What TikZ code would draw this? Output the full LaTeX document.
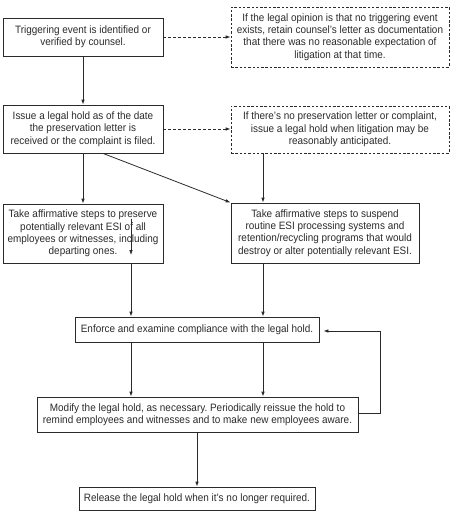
\documentclass[tikz,border=0pt]{standalone}
\usepackage{fontspec}
\setmainfont{Liberation Sans}[FakeStretch=0.93]
\usetikzlibrary{arrows.meta}
\definecolor{ink}{HTML}{2A2A2A}
\frenchspacing
\begin{document}
\begin{tikzpicture}[x=1pt,y=-1pt,
  box/.style={draw=ink, line width=0.8pt, inner sep=0pt, align=center,
    font=\fontsize{10.7}{12.3}\selectfont, text=ink},
  dbox/.style={box, dash pattern=on 2.5pt off 1.8pt},
  arr/.style={draw=ink, line width=0.8pt, -{Latex[length=5pt,width=3.6pt]}},
  darr/.style={arr, dash pattern=on 3pt off 2pt}]
\useasboundingbox (0,0) rectangle (457,519);
\node[box, minimum width=160pt, minimum height=38pt] (A) at (83,37)
  {Triggering event is identified or\\verified by counsel.};
\node[dbox, minimum width=218pt, minimum height=60pt] (B) at (340,37)
  {If the legal opinion is that no triggering event\\exists, retain counsel’s letter as documentation\\that there was no reasonable expectation of\\litigation at that time.};
\node[box, minimum width=160pt, minimum height=48pt] (C) at (83,129)
  {Issue a legal hold as of the date\\the preservation letter is\\received or the complaint is filed.};
\node[dbox, minimum width=218pt, minimum height=47pt] (D) at (340,129.5)
  {If there’s no preservation letter or complaint,\\issue a legal hold when litigation may be\\reasonably anticipated.};
\node[box, minimum width=160pt, minimum height=59pt] (E) at (83,233.5)
  {Take affirmative steps to preserve\\potentially relevant ESI of all\\employees or witnesses, including\\departing ones.};
\node[box, minimum width=188pt, minimum height=60pt] (F) at (325,233)
  {Take affirmative steps to suspend\\routine ESI processing systems and\\retention/recycling programs that would\\destroy or alter potentially relevant ESI.};
\node[box, minimum width=244pt, minimum height=25pt] (G) at (197,329.5)
  {Enforce and examine compliance with the legal hold.};
\node[box, minimum width=321pt, minimum height=35pt] (H) at (197.5,414.5)
  {Modify the legal hold, as necessary. Periodically reissue the hold to\\remind employees and witnesses and to make new employees aware.};
\node[box, minimum width=236pt, minimum height=23pt] (I) at (197,498.5)
  {Release the legal hold when it’s no longer required.};
\coordinate (s1) at (131,219);
\coordinate (s2) at (131,255);
\coordinate (c1) at (380,413);
\coordinate (c2) at (380,331);
% connectors
\draw[arr] (A.south) -- (C.north);
\draw[darr] (A.east) -- (B.west |- A.east);
\draw[darr] (C.east) -- (D.west |- C.east);
\draw[arr] (C.south) -- (E.north);
\draw[arr] (C.south -| 103,0) -- (F.north west);
\draw[arr] (D.south -| 263,0) -- (F.north -| 263,0);
\draw[arr] (s1) -- (s2);
\draw[arr] (E.south -| 131,0) -- (G.north -| 131,0);
\draw[arr] (F.south -| 263,0) -- (G.north -| 263,0);
\draw[arr] (G.south -| 131,0) -- (H.north -| 131,0);
\draw[arr] (G.south -| 263,0) -- (H.north -| 263,0);
\draw[arr] (H.south -| 197,0) -- (I.north -| 197,0);
\draw[arr] (H.east |- c1) -- (c1) -- (c2) -- ([xshift=4pt]G.east |- c2);
\end{tikzpicture}
\end{document}
